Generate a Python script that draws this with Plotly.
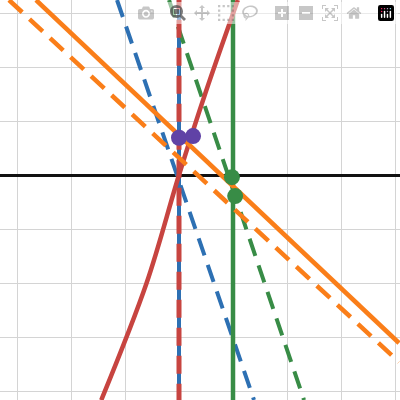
import plotly.graph_objects as go

# Data (graph units)
red_curve_x = [-1.44, -0.6, 0.0, 0.5, 1.09]
red_curve_y = [-4.17, -2.0, 0.0, 1.55, 3.24]
red_vert_x = [0, 0]
red_vert_y = [-4.2, 3.3]
green_vert_x = [1, 1]
green_vert_y = [-4.2, 3.3]
green_dash_x = [-0.185, 2.315]
green_dash_y = [3.241, -4.167]
blue_dash_x = [-1.148, 1.389]
blue_dash_y = [3.241, -4.167]
orange_x = [-2.648, 4.074]
orange_y = [3.241, -3.111]
orange_dash_x = [-3.148, 4.074]
orange_dash_y = [3.241, -3.463]
purple_x = [0.0, 0.26]
purple_y = [0.69, 0.72]
green_pts_x = [0.98, 1.04]
green_pts_y = [-0.04, -0.39]

RED, BLUE, GREEN, ORANGE, PURPLE = "#c74440", "#2d70b3", "#388c46", "#fa7e19", "#6042a6"
DASH = "18px,10px"

fig = go.Figure()
def line(x, y, c, w=4.5, dash="solid", shape="linear"):
    fig.add_trace(go.Scatter(x=x, y=y, mode="lines", line=dict(color=c, width=w, dash=dash, shape=shape), hoverinfo="skip"))

line(red_vert_x, red_vert_y, BLUE, 4)
line(blue_dash_x, blue_dash_y, BLUE, 4, DASH)
line(green_dash_x, green_dash_y, GREEN, 4, DASH)
line(red_vert_x, red_vert_y, RED, 5, DASH)
line(green_vert_x, green_vert_y, GREEN, 4.5)
line(red_curve_x, red_curve_y, RED, 4.5, shape="spline")
line(orange_dash_x, orange_dash_y, ORANGE, 4.5, DASH)
line(orange_x, orange_y, ORANGE, 4.5)
fig.add_trace(go.Scatter(x=purple_x, y=purple_y, mode="markers", marker=dict(color=PURPLE, size=16)))
fig.add_trace(go.Scatter(x=green_pts_x, y=green_pts_y, mode="markers", marker=dict(color=GREEN, size=16)))

axis = dict(dtick=1, tick0=0, showticklabels=False, ticks="", gridcolor="#d4d4d4", gridwidth=1.3, showline=False)
fig.update_layout(
    width=400, height=400, margin=dict(l=0, r=0, t=0, b=0),
    plot_bgcolor="white", paper_bgcolor="white", showlegend=False,
    xaxis=dict(range=[-179/54, 221/54], zeroline=False, **axis),
    yaxis=dict(range=[-225/54, 175/54], zeroline=True, zerolinecolor="#111", zerolinewidth=2.5, **axis),
)
fig.write_html("out.html")
with open("out.html") as f:
    html = f.read()
html = html.replace("<head>", "<head><style>html,body{margin:0;padding:0;overflow:hidden;}</style>", 1)
with open("out.html", "w") as f:
    f.write(html)
